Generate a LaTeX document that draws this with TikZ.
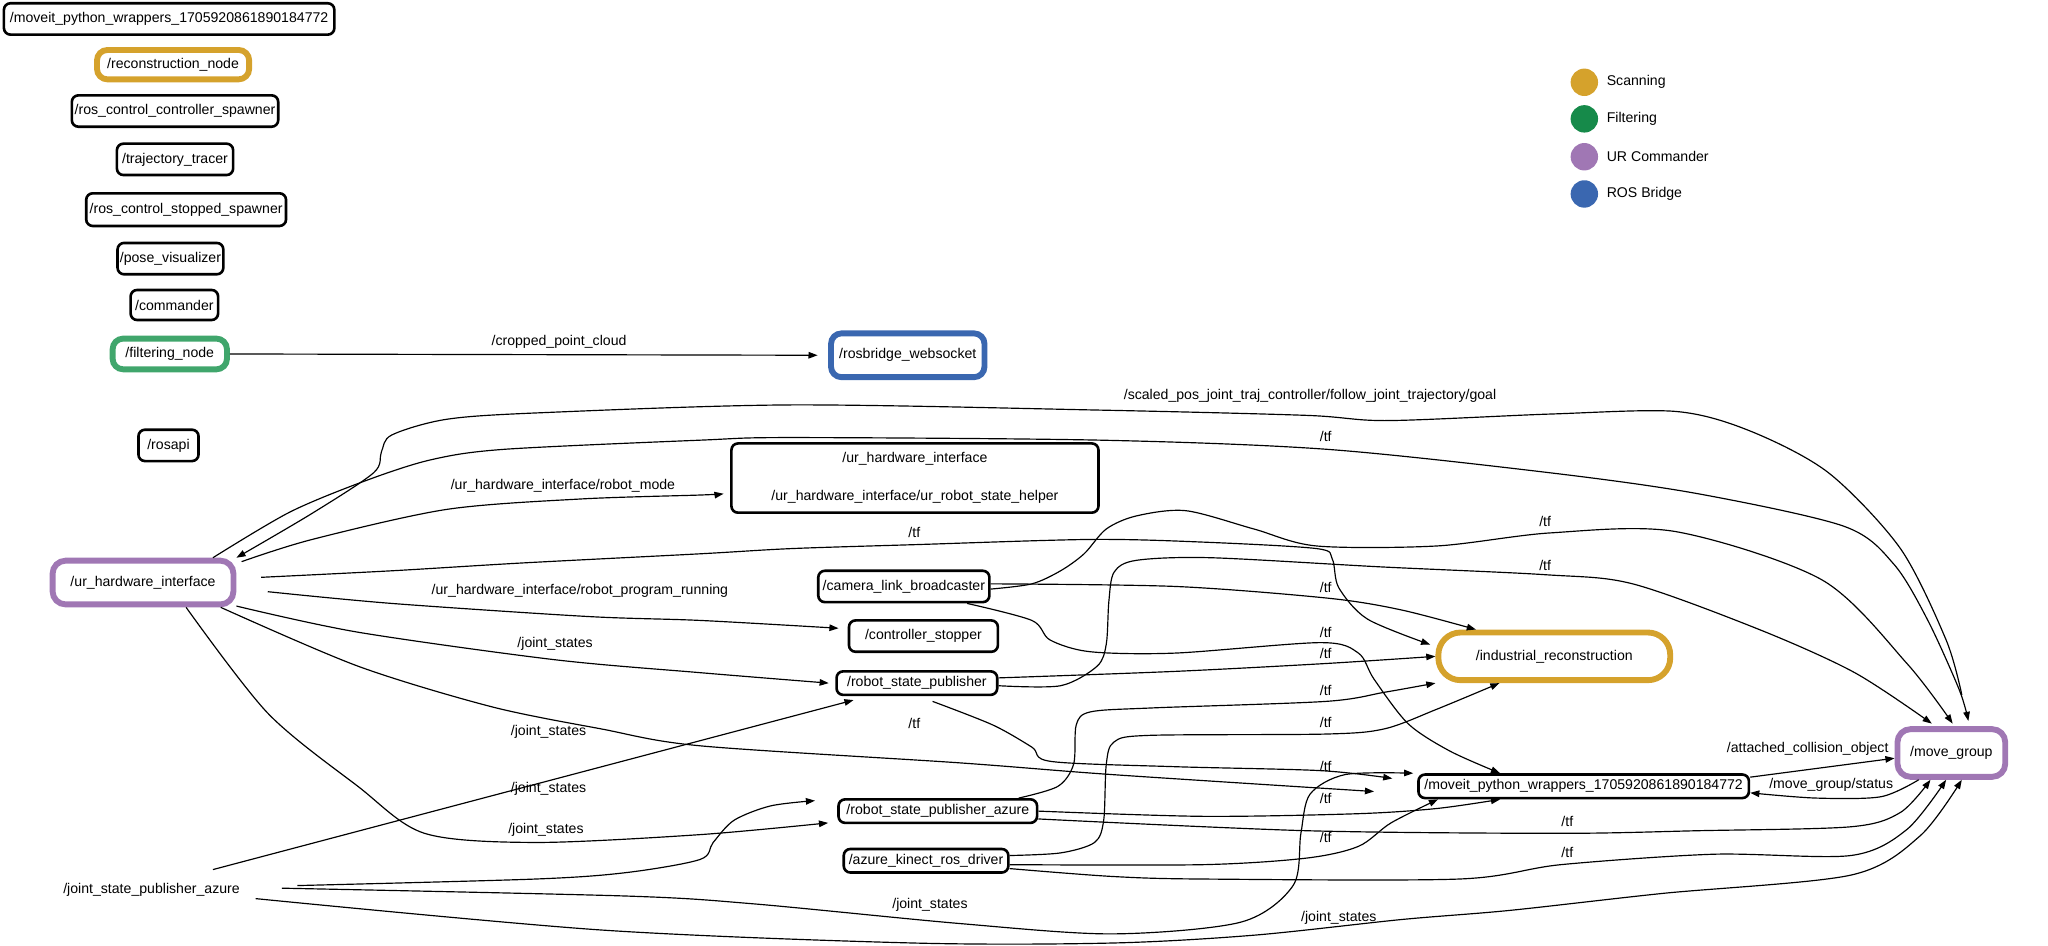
\documentclass[tikz,border=0pt]{standalone}
\usepackage{fontspec}
\setmainfont{Liberation Sans}
\usetikzlibrary{arrows.meta}
\definecolor{scancol}{RGB}{213,162,44}
\definecolor{filtcol}{RGB}{64,166,108}
\definecolor{filtdot}{RGB}{22,138,74}
\definecolor{urcol}{RGB}{160,119,180}
\definecolor{bridgecol}{RGB}{58,103,176}
\begin{document}
\begin{tikzpicture}
  [x=1pt,y=-1pt,
   every node/.style={font=\fontsize{10.8}{13}\selectfont,inner sep=0pt},
   box/.style={draw,line width=2pt,rounded corners=5pt},
   scan/.style={draw=scancol,line width=4.5pt,rounded corners=8pt},
   filt/.style={draw=filtcol,line width=4.5pt,rounded corners=8pt},
   urc/.style={draw=urcol,line width=4.5pt,rounded corners=8pt},
   bridge/.style={draw=bridgecol,line width=4.5pt,rounded corners=8pt},
   link/.style={line width=0.9pt,-{Triangle[length=7pt,width=5pt]}},
   legdot/.style={circle,minimum size=21pt}]
  \useasboundingbox (0,0) rectangle (1568,724);
  % nodes without connections
  \node[box,minimum width=253pt,minimum height=24pt] (mpwtop) at (129.5,14.5) {/moveit\_python\_wrappers\_1705920861890184772};
  \node[scan,minimum width=116.5pt,minimum height=22.5pt] (recon) at (132.5,49.5) {/reconstruction\_node};
  \node[box,minimum width=158pt,minimum height=24pt] (ctrlspawn) at (134,85) {/ros\_control\_controller\_spawner};
  \node[box,minimum width=89pt,minimum height=24pt] (tracer) at (134,122) {/trajectory\_tracer};
  \node[box,minimum width=153pt,minimum height=25pt] (stopspawn) at (142.5,160.5) {/ros\_control\_stopped\_spawner};
  \node[box,minimum width=81pt,minimum height=24pt] (posevis) at (130.5,198) {/pose\_visualizer};
  \node[box,minimum width=67pt,minimum height=23pt] (commander) at (133.5,233.5) {/commander};
  \node[filt,minimum width=87.5pt,minimum height=23.5pt] (filtering) at (130,271) {/filtering\_node};
  \node[box,minimum width=46pt,minimum height=24pt] (rosapi) at (129,341) {/rosapi};
  \node[bridge,minimum width=117.5pt,minimum height=33.5pt] (rosbridge) at (695,272) {/rosbridge\_websocket};
  % graph nodes
  \node[box,minimum width=281pt,minimum height=53pt,align=center] (urbox) at (700.5,366) {/ur\_hardware\_interface\\[16pt]/ur\_hardware\_interface/ur\_robot\_state\_helper};
  \node[urc,minimum width=138.5pt,minimum height=33.5pt,rounded corners=10pt] (uhi) at (109.5,446) {/ur\_hardware\_interface};
  \node[box,minimum width=131pt,minimum height=24pt] (camera) at (692,449) {/camera\_link\_broadcaster};
  \node[box,minimum width=114pt,minimum height=24pt] (ctrlstop) at (707,487) {/controller\_stopper};
  \node[box,minimum width=123pt,minimum height=18pt] (rsp) at (702,523) {/robot\_state\_publisher};
  \node[box,minimum width=152pt,minimum height=18pt] (rspaz) at (718,621) {/robot\_state\_publisher\_azure};
  \node[box,minimum width=126pt,minimum height=18pt] (azure) at (709,659) {/azure\_kinect\_ros\_driver};
  \node[scan,minimum width=177.5pt,minimum height=36.5pt,rounded corners=17pt] (ir) at (1190,502.5) {/industrial\_reconstruction};
  \node[box,minimum width=253pt,minimum height=18pt] (mpw) at (1212.5,602) {/moveit\_python\_wrappers\_1705920861890184772};
  \node[urc,minimum width=82.5pt,minimum height=36.5pt,rounded corners=10pt] (mg) at (1494,576.5) {/move\_group};
  \node[inner sep=4pt] (jsp) at (116,681) {/joint\_state\_publisher\_azure};
  % legend
  \node[legdot,fill=scancol] (dscan) at (1213,63) {};
  \node[anchor=west] (tscan) at (1230,63) {Scanning};
  \node[legdot,fill=filtdot] (dfilt) at (1213,91) {};
  \node[anchor=west] (tfilt) at (1230,91) {Filtering};
  \node[legdot,fill=urcol] (dur) at (1213,120) {};
  \node[anchor=west] (tur) at (1230,120) {UR Commander};
  \node[legdot,fill=bridgecol] (dbridge) at (1213,148.5) {};
  \node[anchor=west] (tbridge) at (1230,148.5) {ROS Bridge};
  % connectors
  \draw[link,shorten >=8pt] (filtering.east) -- (rosbridge.west);
  \draw[link] plot[smooth] coordinates {([xshift=8pt,yshift=24pt]mg.north) (1490,490) (1455,420) (1400,362) (1340,330) (1283,315) (1187,317) (1062,322) (1000,318) (843,314) (606,310) (414,316) (342,321) (300,333) (292,346) (286,362) (239,393) (uhi.north east)};
  \draw[link] plot[smooth] coordinates {([xshift=-18pt]uhi.north east) (222,392) (280,368) (330,352) (386,344) (536,337) (606,335) (843,337) (1016,344) (1187,362) (1300,378) (1412,403) (1450,432) (1476,475) (1500,528) ([xshift=13pt,yshift=4pt]mg.north)};
  \draw[link] plot[smooth] coordinates {([xshift=4pt,yshift=-3pt]uhi.north east) (239,413) (342,390) (445,382) (536,379) ([xshift=-5pt,yshift=-12pt]urbox.west)};
  \draw[link] plot[smooth] coordinates {([xshift=19pt,yshift=4pt]uhi.east) (300,437) (400,431) (536,424) (606,420) (700,417) (835,413) (920,415) (1008,420) (1020,428) (1025,450) (1047,474) ([xshift=-4pt,yshift=9pt]ir.west)};
  \draw[link] plot[smooth] coordinates {([xshift=24pt,yshift=-7pt]uhi.east) (300,462) (450,472) (536,475) ([xshift=-7pt,yshift=6pt]ctrlstop.west)};
  \draw[link] plot[smooth] coordinates {([yshift=-18pt]uhi.east) (274,484) (424,505) (536,515) ([xshift=-5pt]rsp.west)};
  \draw[link] plot[smooth] coordinates {([xshift=-12pt]uhi.south east) (274,510) (376,541) (460,558) (536,571) (734,584) (851,593) ([xshift=-33pt,yshift=-4pt]mpw.west)};
  \draw[link] plot[smooth] coordinates {([xshift=33pt]uhi.south) (205,546) (274,602) (325,638) (410,645) (536,639) ([xshift=-7pt,yshift=-9pt]rspaz.west)};
  \draw[link] ([xshift=47pt,yshift=6pt]jsp.north) -- ([xshift=14pt,yshift=-3pt]rsp.south west);
  \draw[link] plot[smooth] coordinates {([xshift=40pt,yshift=3pt]jsp.east) (410,673) (480,668) (536,658) (546,645) (562,628) (590,617) ([xshift=-17pt,yshift=8pt]rspaz.west)};
  \draw[link] plot[smooth] coordinates {([xshift=28pt,yshift=1pt]jsp.east) (479,686) (577,692) (734,707) (851,715) (950,706) (990,678) (996,638) (1003,608) (1030,593) ([xshift=-3pt]mpw.north west)};
  \draw[link] plot[smooth] coordinates {([xshift=8pt,yshift=-7pt]jsp.east) (460,712) (700,722) (851,722) (960,716) (1073,704) (1156,697) (1273,684) (1417,670) (1470,640) ([xshift=8pt]mg.south)};
  \draw[link] plot[smooth] coordinates {([yshift=-2pt]camera.east) (790,447) (812,437) (830,424) (847,405) (870,395) (908,391) (960,405) (1008,418) (1100,418) (1187,408) (1283,407) (1395,444) (1460,508) ([xshift=1pt,yshift=2pt]mg.north)};
  \draw[link] plot[smooth] coordinates {([yshift=2pt]camera.east) (900,449) (1017,458) (1073,467) ([xshift=-60pt]ir.north)};
  \draw[link] plot[smooth] coordinates {([xshift=-18pt]camera.south east) (790,475) (804,490) (835,499) (900,500) (1011,492) (1040,500) (1052,520) (1078,554) (1110,575) ([xshift=-64pt]mpw.north)};
  \draw[link] plot[smooth] coordinates {([yshift=4pt]rsp.east) (900,514) (1015,508) (ir.west)};
  \draw[link] plot[smooth] coordinates {([yshift=-2pt]rsp.east) (812,525) (840,510) (847,493) (849,460) (853,438) (870,429) (927,427) (1057,434) (1183,440) (1250,447) (1347,482) (1420,515) ([xshift=-15pt,yshift=2pt]mg.north)};
  \draw[link] plot[smooth] coordinates {([xshift=12pt,yshift=-4pt]rsp.south) (760,555) (790,572) (805,583) (900,587) (1011,590) ([xshift=-19pt,yshift=6pt]mpw.west)};
  \draw[link] plot[smooth] coordinates {([xshift=-15pt]rspaz.north east) (810,602) (822,585) (824,555) (835,545) (882,542) (1015,537) (1060,530) (ir.south west)};
  \draw[link] plot[smooth] coordinates {([yshift=4pt]azure.east) (812,653) (838,645) (845,628) (847,585) (853,568) (880,563) (1015,562) (1060,558) (1100,543) ([xshift=-42pt]ir.south)};
  \draw[link] plot[smooth] coordinates {(rspaz.east) (921,625) (1039,623) (1100,619) ([xshift=-64pt]mpw.south)};
  \draw[link] plot[smooth] coordinates {([yshift=-3pt]azure.east) (921,662) (1000,657) (1040,648) (1065,630) ([xshift=16pt]mpw.south west)};
  \draw[link] plot[smooth] coordinates {([yshift=-6pt]rspaz.east) (1000,636) (1195,638) (1300,636) (1417,633) (1455,622) ([xshift=-16pt]mg.south)};
  \draw[link] plot[smooth] coordinates {([yshift=-6pt]azure.east) (851,671) (921,673) (1117,673) (1195,662) (1312,654) (1417,655) (1460,635) ([xshift=-4pt]mg.south)};
  \draw[link] ([yshift=7pt]mpw.east) -- ([yshift=-4pt]mg.west);
  \draw[link] plot[smooth] coordinates {([xshift=-25pt]mg.south) (1440,610) (1390,611) ([yshift=-5pt]mpw.east)};
  % connector labels
  \node (lbcrop) at (428,262) {/cropped\_point\_cloud};
  \node (lbgoal) at (1003,303) {/scaled\_pos\_joint\_traj\_controller/follow\_joint\_trajectory/goal};
  \node (lbtfa) at (1015,334) {/tf};
  \node (lbmode) at (431,372) {/ur\_hardware\_interface/robot\_mode};
  \node (lbtfb) at (700,408) {/tf};
  \node (lbtfc) at (1183,399) {/tf};
  \node (lbtfd) at (1183,433) {/tf};
  \node (lbrun) at (444,452) {/ur\_hardware\_interface/robot\_program\_running};
  \node (lbtfe) at (1015,450) {/tf};
  \node (lbtff) at (1015,484) {/tf};
  \node (lbjsa) at (425,493) {/joint\_states};
  \node (lbtfg) at (1015,500) {/tf};
  \node (lbtfh) at (1015,529) {/tf};
  \node (lbtfi) at (700,554) {/tf};
  \node (lbtfj) at (1015,553) {/tf};
  \node (lbjsb) at (420,560) {/joint\_states};
  \node (lbattach) at (1384,573) {/attached\_collision\_object};
  \node (lbtfk) at (1015,587) {/tf};
  \node (lbstatus) at (1402,601) {/move\_group/status};
  \node (lbjsc) at (420,604) {/joint\_states};
  \node (lbtfl) at (1015,611) {/tf};
  \node (lbtfm) at (1200,629) {/tf};
  \node (lbjsd) at (418,635) {/joint\_states};
  \node (lbtfn) at (1015,641) {/tf};
  \node (lbtfo) at (1200,653) {/tf};
  \node (lbjse) at (712,693) {/joint\_states};
  \node (lbjsf) at (1025,703) {/joint\_states};
\end{tikzpicture}
\end{document}
